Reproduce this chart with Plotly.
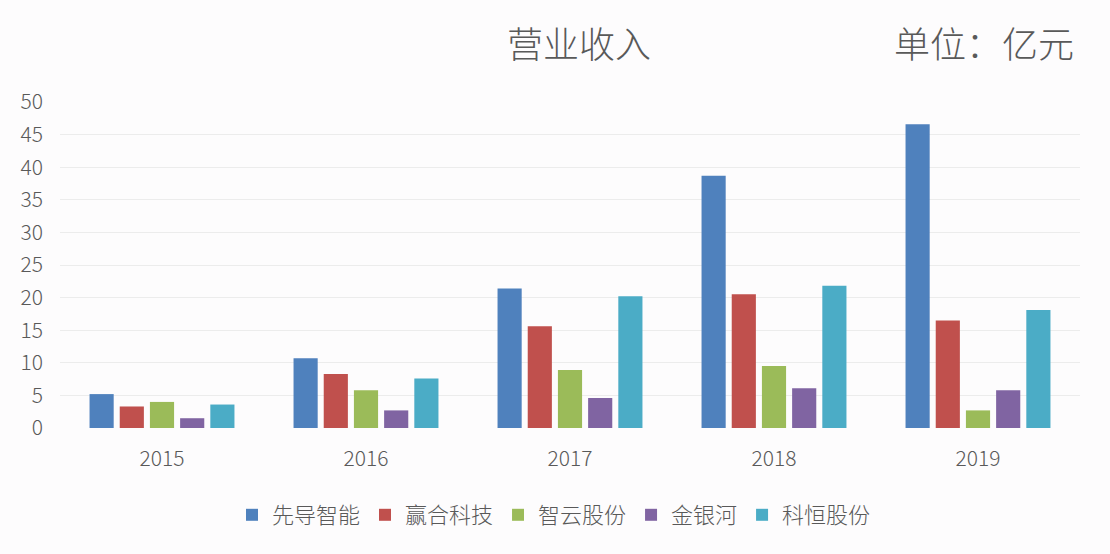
import plotly.graph_objects as go

years = ["2015", "2016", "2017", "2018", "2019"]
series_names = ["先导智能", "赢合科技", "智云股份", "金银河", "科恒股份"]
xiandao = [5.2, 10.7, 21.4, 38.7, 46.6]
yinghe = [3.3, 8.3, 15.6, 20.5, 16.5]
zhiyun = [4.0, 5.8, 8.9, 9.5, 2.7]
jinyinhe = [1.5, 2.7, 4.6, 6.1, 5.8]
keheng = [3.6, 7.6, 20.2, 21.8, 18.1]
colors = ["#4F81BD", "#C0504D", "#9BBB59", "#8064A2", "#4BACC6"]

font_family = "Noto Sans CJK SC, Noto Sans, sans-serif"
gray = "#595959"

fig = go.Figure()
for name, vals, c in zip(series_names, [xiandao, yinghe, zhiyun, jinyinhe, keheng], colors):
    fig.add_trace(go.Bar(x=years, y=vals, name=name, marker=dict(color=c, line=dict(width=0))))

plot_w = 1110 - 60 - 30
plot_h = 554 - 102 - 126
def px_to_paper(px, py):
    return (px - 60) / plot_w, (554 - 126 - py) / plot_h

ax, ay = px_to_paper(579, 42)
bx, by = px_to_paper(1076, 42)
lx, ly = px_to_paper(554, 515)

fig.update_layout(
    width=1110, height=554,
    margin=dict(l=60, r=30, t=102, b=126),
    paper_bgcolor="#fdfcfd", plot_bgcolor="#fdfcfd",
    barmode="group", bargap=0.26, bargroupgap=0.2,
    font=dict(family=font_family, color=gray, weight=300),
    showlegend=True,
    legend=dict(orientation="h", x=lx, xanchor="center", y=ly, yanchor="middle",
                font=dict(size=22, color=gray, weight=300), itemwidth=30, tracegroupgap=0,
                bgcolor="rgba(0,0,0,0)"),
    xaxis=dict(showgrid=False, showline=False, ticks="", tickfont=dict(size=21, color=gray, weight=300),
               ticklabelstandoff=16),
    yaxis=dict(range=[0, 50], dtick=5, showgrid=True, gridcolor="#ececec", gridwidth=1,
               zeroline=False, showline=False, ticks="", tickfont=dict(size=21, color=gray, weight=300),
               ticklabelstandoff=16),
    annotations=[
        dict(text="营业收入", x=ax, y=ay, xanchor="center", yanchor="middle", xref="paper", yref="paper",
             showarrow=False, font=dict(size=36, color=gray, family=font_family, weight=300)),
        dict(text="单位：亿元", x=bx, y=by, xanchor="right", yanchor="middle", xref="paper", yref="paper",
             showarrow=False, font=dict(size=36, color=gray, family=font_family, weight=300)),
    ],
)

fig.write_html("out.html")
